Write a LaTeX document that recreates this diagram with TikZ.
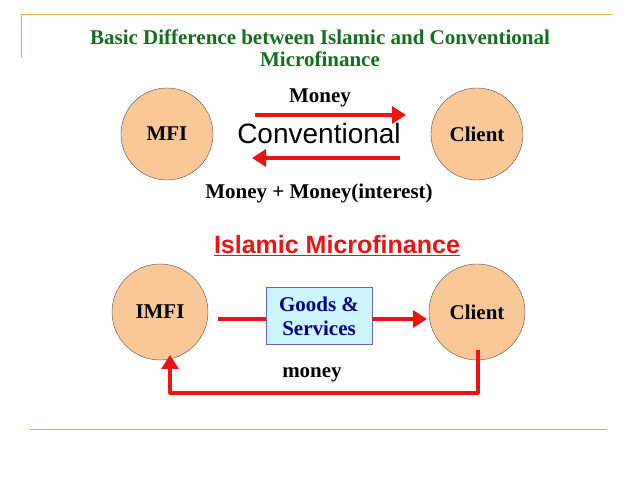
\documentclass[tikz,border=0pt]{standalone}
\usepackage{fontspec}
\setmainfont{Liberation Serif}
\newfontfamily\arial{Liberation Sans}
\usetikzlibrary{arrows.meta}
\definecolor{gold}{RGB}{222,180,60}
\definecolor{ttl}{RGB}{20,110,30}
\definecolor{peach}{RGB}{250,200,150}
\definecolor{boxfill}{RGB}{205,245,255}
\definecolor{arr}{RGB}{235,20,20}
\begin{document}
\begin{tikzpicture}[x=1pt,y=-1pt,
  circ/.style={circle,draw=black!70,fill=peach,minimum size=92pt,inner sep=0pt,font=\fontsize{21}{23}\selectfont\bfseries},
  lbl/.style={font=\fontsize{21}{23}\selectfont\bfseries},
  rarrow/.style={draw=arr,line width=3.2pt,-{Triangle[length=14pt,width=17pt]}},
  rline/.style={draw=arr,line width=3.2pt}]
\useasboundingbox (0,0) rectangle (638,478);
\draw[gold,line width=1pt] (21,58) -- (21,15) -- (612,15);
\draw[gold,line width=1pt] (30,430) -- (607,430);
\node[text=ttl,font=\fontsize{21}{22}\selectfont\bfseries,align=center] (title) at (320,48) {Basic Difference between Islamic and Conventional\\Microfinance};
\node[circ] (mfi) at (167,134) {MFI};
\node[circ] (cl1) at (477,134) {Client};
\node[lbl] (money1) at (320,98) {Money};
\node[font=\fontsize{28}{30}\selectfont\arial] (conv) at (319,133) {Conventional};
\node[lbl] (mm) at (319,193) {Money + Money(interest)};
\coordinate (a1s) at (255,115); \coordinate (a1e) at (406,115);
\coordinate (a2s) at (400,158); \coordinate (a2e) at (252,158);
\draw[rarrow] (a1s) -- (a1e);
\draw[rarrow] (a2s) -- (a2e);
\node[text=arr,font=\fontsize{25}{28}\selectfont\arial\bfseries] (isl) at (337,246) {\underline{Islamic Microfinance}};
\node[circ,minimum size=96pt] (imfi) at (160,312) {IMFI};
\node[circ,minimum size=96pt] (cl2) at (477,312) {Client};
\node[draw=black!50!blue!60,fill=boxfill,text=blue!50!black,minimum width=106pt,minimum height=57pt,align=center,font=\fontsize{21}{24}\selectfont\bfseries] (goods) at (319,316) {Goods \&\\Services};
\coordinate (b1) at (218,319);
\draw[rline] (b1) -- (goods.west|-b1);
\draw[rarrow] (goods.east|-b1) -- (427,319);
\node[lbl] (money2) at (312,375) {money};
\coordinate (c1) at (478,350); \coordinate (c2) at (478,393);
\coordinate (c3) at (170,393); \coordinate (c4) at (170,355);
\draw[rline,-{Triangle[length=14pt,width=17pt]},line join=round] (c1) -- (c2) -- (c3) -- (c4);
\end{tikzpicture}
\end{document}
